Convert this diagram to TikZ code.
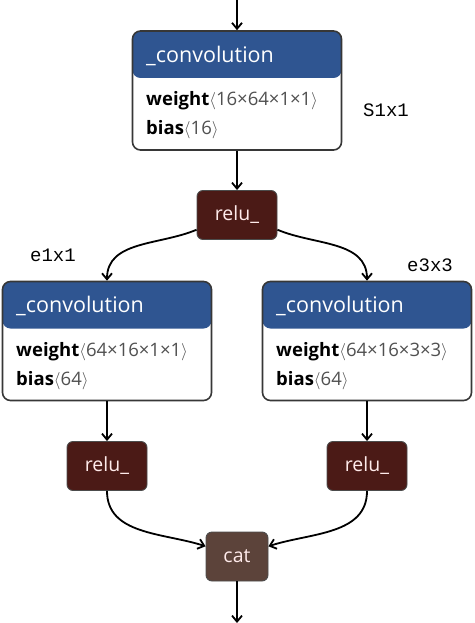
\documentclass[tikz,border=0pt]{standalone}
\usepackage{fontspec}
\setmainfont{Open Sans}
\setmonofont{Liberation Mono}
\usetikzlibrary{arrows.meta}
\definecolor{headBlue}{RGB}{47, 85, 145}
\definecolor{reluBrown}{RGB}{75, 26, 22}
\definecolor{catBrown}{RGB}{92, 67, 58}
\definecolor{boxLine}{RGB}{55, 55, 55}
\definecolor{dimText}{RGB}{80, 80, 80}

\begin{document}
\begin{tikzpicture}[x=1pt, y=-1pt,
    >={Straight Barb[length=6pt,width=10pt]},
    conn/.style={->, line width=1.8pt},
    opbox/.style={draw=black!70, line width=0.9pt, rounded corners=6pt, minimum width=80pt,
      minimum height=49pt, inner sep=0pt, text=white!92!red, font=\fontsize{19.5}{22}\selectfont},
    convbox/.style={draw=boxLine, line width=1.6pt, rounded corners=8pt, minimum width=209pt,
      minimum height=119pt, inner sep=0pt,
      path picture={\fill[headBlue] (path picture bounding box.north west)
        rectangle ([yshift=-47pt]path picture bounding box.north east);}},
    title/.style={anchor=west, text=white, font=\fontsize{21.5}{24}\selectfont},
    param/.style={anchor=west, font=\fontsize{18.5}{21}\selectfont},
    tag/.style={font=\ttfamily\fontsize{19}{22}\selectfont}]
    \useasboundingbox (0,0) rectangle (474,623);

    % squeeze
    \coordinate (in) at (237,0);
    \node[convbox] (c0) at (237,90.5) {};
    \node[title] (c0t) at ([xshift=11pt,yshift=-26pt]c0.north west) {\_convolution};
    \node[param] (c0w) at ([xshift=11pt,yshift=-70pt]c0.north west)
      {\textbf{weight}\textcolor{dimText}{$\langle$16×64×1×1$\rangle$}};
    \node[param] (c0b) at ([xshift=11pt,yshift=-99pt]c0.north west)
      {\textbf{bias}\textcolor{dimText}{$\langle$16$\rangle$}};
    \node[tag] (s1) at (386,110) {S1x1};
    \node[opbox, fill=reluBrown] (r0) at (237,215) {relu\_};

    % expand 1x1
    \node[convbox] (c1) at (107,341) {};
    \node[title] (c1t) at ([xshift=11pt,yshift=-25pt]c1.north west) {\_convolution};
    \node[param] (c1w) at ([xshift=11pt,yshift=-71pt]c1.north west)
      {\textbf{weight}\textcolor{dimText}{$\langle$64×16×1×1$\rangle$}};
    \node[param] (c1b) at ([xshift=11pt,yshift=-100pt]c1.north west)
      {\textbf{bias}\textcolor{dimText}{$\langle$64$\rangle$}};
    \node[tag] (e1) at (53,255) {e1x1};
    \node[opbox, fill=reluBrown] (r1) at (107,466) {relu\_};

    % expand 3x3
    \node[convbox] (c2) at (367,341) {};
    \node[title] (c2t) at ([xshift=11pt,yshift=-25pt]c2.north west) {\_convolution};
    \node[param] (c2w) at ([xshift=11pt,yshift=-71pt]c2.north west)
      {\textbf{weight}\textcolor{dimText}{$\langle$64×16×3×3$\rangle$}};
    \node[param] (c2b) at ([xshift=11pt,yshift=-100pt]c2.north west)
      {\textbf{bias}\textcolor{dimText}{$\langle$64$\rangle$}};
    \node[tag] (e3) at (430,265) {e3x3};
    \node[opbox, fill=reluBrown] (r2) at (367,466) {relu\_};

    \node[opbox, fill=catBrown, minimum width=62pt] (cat) at (237,556.5) {cat};
    \coordinate (out) at (237,623);

    \draw[conn] (in) -- (c0);
    \draw[conn] (c0) -- (r0);
    \draw[conn] (r0.200) to[out=203, in=90] (c1.north);
    \draw[conn] (r0.340) to[out=-23, in=90] (c2.north);
    \draw[conn] (c1) -- (r1);
    \draw[conn] (c2) -- (r2);
    \draw[conn] (r1.south) to[out=-90, in=162] (cat.162);
    \draw[conn] (r2.south) to[out=-90, in=18] (cat.18);
    \draw[conn] (cat) -- (out);
\end{tikzpicture}
\end{document}
